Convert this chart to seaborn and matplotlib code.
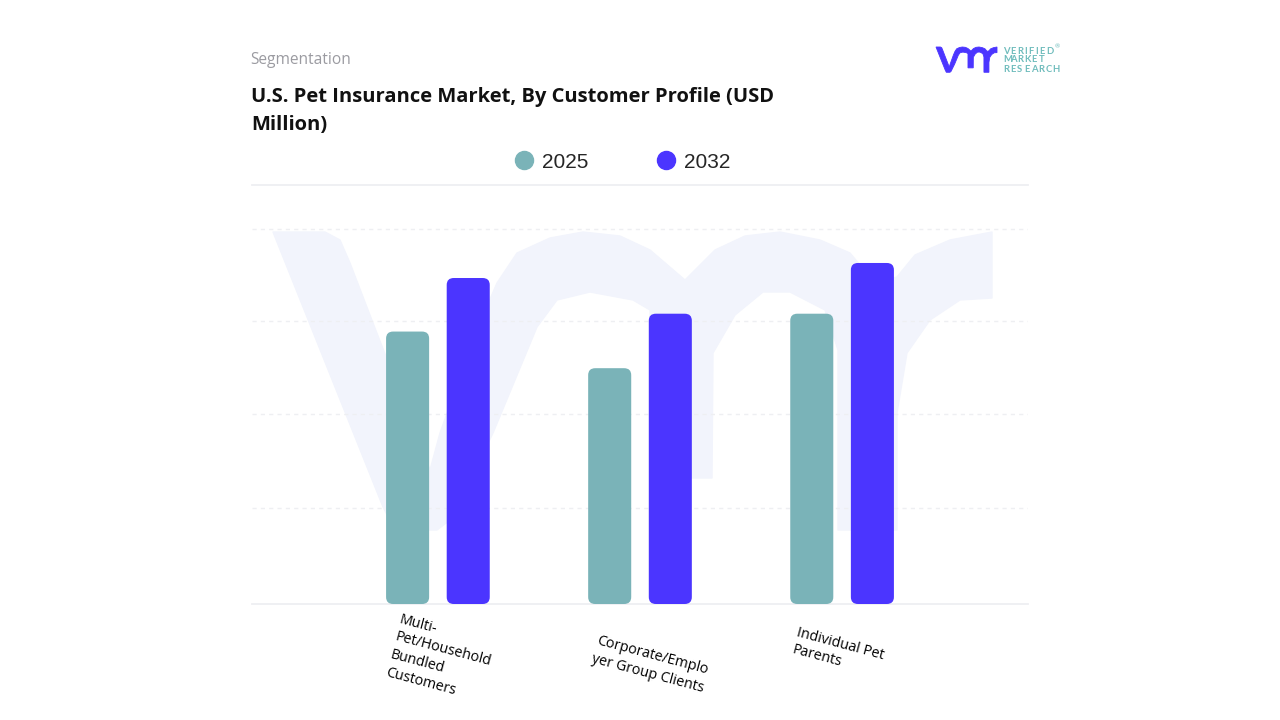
#!/usr/bin/env python3
"""U.S. Pet Insurance Market, by customer profile - grouped rounded bars."""

import numpy as np
import pandas as pd
import seaborn as sns
from matplotlib import pyplot as plt
from matplotlib.lines import Line2D
from matplotlib.patches import FancyBboxPatch, Polygon
from matplotlib.transforms import ScaledTranslation

# values (no axis labels, so the unit is only relative)
profiles = [
    "Multi-\nPet/Household\nBundled\nCustomers",
    "Corporate/Emplo\nyer Group Clients",
    "Individual Pet\nParents",
]
years = ["2025", "2032"]
values_2025 = [290, 251, 309]
values_2032 = [347, 309, 363]
grid_values = [102, 202, 301, 399]

TEAL = "#7ab3b8"
BLUE = "#4b35ff"
GRID = "#eeeff2"
MARK = "#f2f4fc"

# outline of the vmr logo, in pixels of the big watermark
VMR_OUTLINE = np.array([
    (273, 232), (325, 232), (340, 240), (350, 263), (373, 323), (430, 470),
    (440, 433), (478, 327), (497, 283), (517, 253), (550, 238), (583, 232),
    (620, 236), (650, 250), (685, 280), (715, 250), (745, 236), (780, 232),
    (820, 240), (850, 253), (875, 283), (897, 277), (915, 255), (950, 240),
    (992, 232), (992, 298), (960, 300), (930, 320), (907, 353), (897, 413),
    (897, 530), (838, 530), (838, 350), (825, 310), (790, 292), (763, 292),
    (735, 315), (713, 353), (712, 478), (650, 478), (650, 310), (633, 300),
    (590, 292), (557, 300), (537, 327), (493, 433), (450, 520), (437, 530),
    (395, 530), (383, 507),
])


def px_axes_rect(left, top, right, bottom):
    return [left / 1280, 1 - bottom / 720, (right - left) / 1280, (bottom - top) / 720]


def main():
    sns.set_theme(style="white")
    plt.rcParams["font.family"] = ["Open Sans", "DejaVu Sans"]

    df = pd.DataFrame(
        {
            "profile": profiles * 2,
            "year": [years[0]] * 3 + [years[1]] * 3,
            "value": values_2025 + values_2032,
        }
    )

    fig = plt.figure(figsize=(12.8, 7.2), dpi=100, facecolor="white")

    # Background layer in pixel coordinates: watermark and logo
    bg = fig.add_axes([0, 0, 1, 1], zorder=0)
    bg.set_xlim(0, 1280)
    bg.set_ylim(720, 0)
    bg.axis("off")
    bg.add_patch(Polygon(VMR_OUTLINE, closed=True, facecolor=MARK, edgecolor=MARK,
                         lw=1, joinstyle="round"))

    small = (VMR_OUTLINE - [273, 232]) * 61 / 719 + [936, 47]
    bg.add_patch(Polygon(small, closed=True, facecolor=BLUE, edgecolor=BLUE, lw=0.6))

    # logo text has wide tracking, so place it letter by letter
    for text, y in zip(["VERIFIED", "MARKET", "RESEARCH"], [51, 60, 69]):
        x = 1003
        for letter in text:
            bg.text(x, y, letter, color="#6fbcbc", fontsize=6.8,
                    family="Lato", weight="bold", va="center", ha="left")
            x += 3.8 if letter == "I" else 7.1
    bg.text(1055, 47, "®", color="#6fbcbc", fontsize=4.5, family="Lato", va="center")

    ax = fig.add_axes(px_axes_rect(252, 185, 1028, 604), zorder=1)
    ax.patch.set_visible(False)

    sns.barplot(
        data=df,
        x="profile",
        y="value",
        hue="year",
        palette=[TEAL, BLUE],
        saturation=1,
        width=0.6,
        gap=0.29,
        legend=False,
        ax=ax,
    )
    ax.set_xlim(-0.92, 2.92)
    ax.set_ylim(0, 446)

    # Swap the square bars for rounded ones of the same size
    for bar in list(ax.patches):
        rounded = FancyBboxPatch(
            (bar.get_x(), bar.get_y()),
            bar.get_width(),
            bar.get_height(),
            boxstyle="round,pad=0,rounding_size=0.035",
            mutation_aspect=210,
            facecolor=bar.get_facecolor(),
            edgecolor="none",
            zorder=3,
        )
        bar.remove()
        ax.add_patch(rounded)

    for value in grid_values:
        ax.axhline(value, color=GRID, lw=1, ls=(0, (3, 3)), zorder=1)

    sns.despine(ax=ax, left=True, right=True, top=False, bottom=False)
    for side in ["top", "bottom"]:
        ax.spines[side].set_color(GRID)
        ax.spines[side].set_linewidth(1.3)

    ax.set_xlabel("")
    ax.set_ylabel("")
    ax.set_yticks([])
    ax.tick_params(axis="x", length=0, pad=0)
    ax.set_xticks(range(len(profiles)))
    ax.set_xticklabels(profiles, rotation=-15, rotation_mode="anchor",
                       ha="left", va="top", fontsize=10.3, color="black",
                       linespacing=1.3)
    # pixel offsets of each label's top left corner from its tick
    offsets = [(-36, -8), (-41, -30), (-43, -21)]
    for label, (dx, dy) in zip(ax.get_xticklabels(), offsets):
        label.set_transform(label.get_transform()
                            + ScaledTranslation(dx / 100, dy / 100, fig.dpi_scale_trans))

    handles = [
        Line2D([], [], ls="", marker="o", ms=13, color=TEAL, label=years[0]),
        Line2D([], [], ls="", marker="o", ms=13, color=BLUE, label=years[1]),
    ]
    fig.legend(
        handles=handles,
        loc="center",
        bbox_to_anchor=(622 / 1280, 1 - 162 / 720),
        ncol=2,
        frameon=False,
        prop={"family": "Liberation Sans", "size": 15},
        handlelength=1,
        columnspacing=3.25,
        handletextpad=0.37,
    )

    fig.text(250 / 1280, 1 - 60.5 / 720, "Segmentation", color="#9b9ba1",
             fontsize=11.2, va="center")
    fig.text(251 / 1280, 1 - 111 / 720,
             "U.S. Pet Insurance Market, By Customer Profile (USD\nMillion)",
             color="#111111", fontsize=14.5, weight="bold", va="center",
             linespacing=1.56)

    fig.savefig("out.png", dpi=100)


if __name__ == "__main__":
    main()
